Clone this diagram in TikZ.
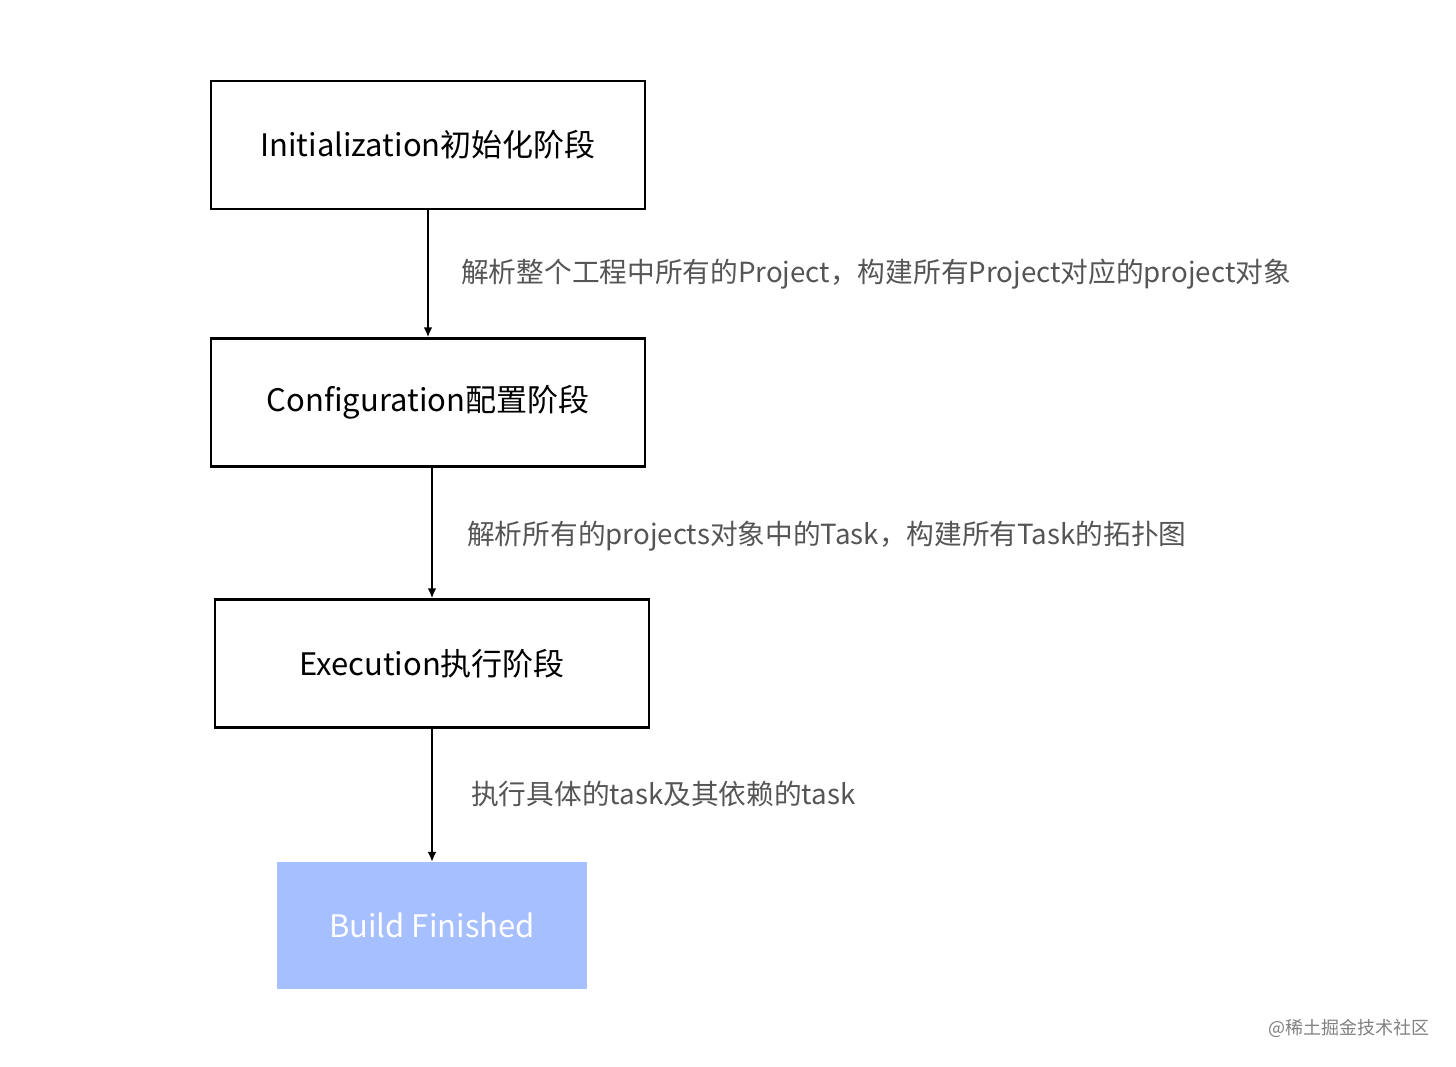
\documentclass[tikz,border=0pt]{standalone}
\usepackage{fontspec}
\setmainfont{Noto Sans CJK SC}
\definecolor{lbl}{HTML}{555555}
\definecolor{fin}{HTML}{A6BFFF}
\begin{document}
\begin{tikzpicture}[x=1pt,y=-1pt,
 box/.style={draw,line width=2.5pt,minimum width=434pt,minimum height=128pt,inner sep=0pt,font=\fontsize{31}{37}\selectfont},
 lab/.style={anchor=west,text=lbl,inner sep=0pt,font=\fontsize{27.7}{33}\selectfont},
 arr/.style={line width=2.5pt,-{Latex[length=10pt,width=9pt]}}]
\usetikzlibrary{arrows.meta}
\useasboundingbox (0,0) rectangle (1456,1066);
\node[box] (a) at (428,145) {Initialization初始化阶段};
\node[box] (b) at (428,402.5) {Configuration配置阶段};
\node[box] (c) at (432,663.5) {Execution执行阶段};
\node[fill=fin,minimum width=310pt,minimum height=127pt,inner sep=0pt,text=white,font=\fontsize{31}{37}\selectfont] (d) at (432,925.5) {Build Finished};
\draw[arr] (a.south) -- (b.north);
\draw[arr] (c.north|-b.south) -- (c.north);
\draw[arr] (c.south) -- (d.north);
\node[lab] (l1) at (461,274) {解析整个工程中所有的Project，构建所有Project对应的project对象};
\node[lab] (l2) at (467,536) {解析所有的projects对象中的Task，构建所有Task的拓扑图};
\node[lab] (l3) at (471,794) {执行具体的task及其依赖的task};
\node[anchor=west,inner sep=0pt,text=gray,font=\fontsize{18}{22}\selectfont] (w) at (1268,1028) {@稀土掘金技术社区};
\end{tikzpicture}
\end{document}
